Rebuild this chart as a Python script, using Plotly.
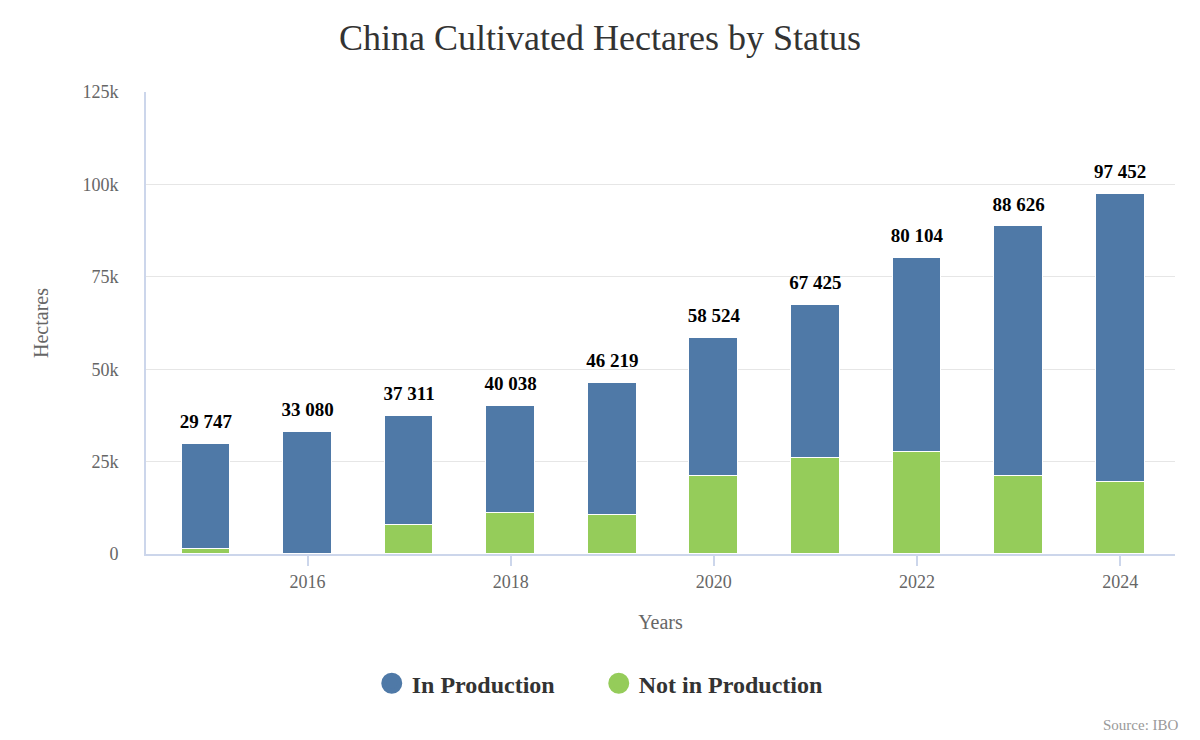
import plotly.graph_objects as go

years = [2015, 2016, 2017, 2018, 2019, 2020, 2021, 2022, 2023, 2024]
totals = [29747, 33080, 37311, 40038, 46219, 58524, 67425, 80104, 88626, 97452]
not_in_production = [1300, 0, 7900, 11200, 10600, 21000, 26000, 27600, 21000, 19400]
in_production = [t - n for t, n in zip(totals, not_in_production)]

y_tickvals = [0, 25000, 50000, 75000, 100000, 125000]
y_ticktext = ["0", "25k", "50k", "75k", "100k", "125k"]
x_tickvals = [2016, 2018, 2020, 2022, 2024]

BLUE = "#4F79A7"
GREEN = "#95CC5A"
FONT = "Liberation Serif"

fig = go.Figure()
fig.add_trace(go.Bar(x=years, y=not_in_production, name="Not in Production",
                     marker=dict(color=GREEN, line=dict(color="white", width=1)),
                     width=0.48, showlegend=False, hoverinfo="skip"))
fig.add_trace(go.Bar(x=years, y=in_production, name="In Production",
                     marker=dict(color=BLUE, line=dict(color="white", width=1)),
                     width=0.48, showlegend=False, hoverinfo="skip"))
fig.add_trace(go.Scatter(x=years, y=totals, mode="markers+text",
                         text=[f"{v:,}".replace(",", " ") for v in totals],
                         textposition="top center",
                         marker=dict(size=16, opacity=0),
                         textfont=dict(family=FONT, size=19, color="black", weight="bold"),
                         showlegend=False, hoverinfo="skip"))
# legend entries (circles)
fig.add_trace(go.Scatter(x=[None], y=[None], mode="markers", name="In Production",
                         marker=dict(symbol="circle", size=24, color=BLUE,
                                     line=dict(color=BLUE, width=5))))
fig.add_trace(go.Scatter(x=[None], y=[None], mode="markers", name="Not in Production",
                         marker=dict(symbol="circle", size=24, color=GREEN,
                                     line=dict(color=GREEN, width=5))))

fig.update_layout(
    width=1200, height=740,
    barmode="stack",
    plot_bgcolor="white", paper_bgcolor="white",
    margin=dict(l=146, r=25, t=92, b=186),
    font=dict(family=FONT, color="#666666"),
    title=dict(text="China Cultivated Hectares by Status", x=0.5, xanchor="center",
               y=0.949, yanchor="middle",
               font=dict(family=FONT, size=36, color="#333333")),
    legend=dict(orientation="h", x=0.44, xanchor="center", y=-0.232, yanchor="top",
                font=dict(family=FONT, size=24, color="#333333", weight="bold"),
                itemsizing="trace", traceorder="normal", itemwidth=30,
                entrywidth=182, entrywidthmode="pixels"),
    annotations=[dict(text="Source: IBO", xref="paper", yref="paper", x=1.006, y=-0.37,
                      xanchor="right", yanchor="middle", showarrow=False,
                      font=dict(family=FONT, size=15, color="#999999"))],
    bargap=0,
)
fig.update_xaxes(range=[2014.41, 2024.54], tickvals=x_tickvals,
                 showgrid=False, showline=True, linecolor="#ccd6eb", linewidth=2,
                 ticks="outside", ticklen=10, tickcolor="#ccd6eb", tickwidth=2,
                 tickfont=dict(family=FONT, size=18, color="#666666"),
                 title=dict(text="Years", font=dict(family=FONT, size=20, color="#666666"), standoff=24),
                 zeroline=False)
fig.update_yaxes(range=[0, 125000], tickvals=y_tickvals, ticktext=y_ticktext,
                 showgrid=True, gridcolor="#e6e6e6", gridwidth=1,
                 showline=True, linecolor="#ccd6eb", linewidth=2,
                 ticks="", tickfont=dict(family=FONT, size=18, color="#666666"),
                 ticklabelstandoff=22,
                 title=dict(text="Hectares", font=dict(family=FONT, size=20, color="#666666"), standoff=28),
                 zeroline=False)

fig.write_html("out.html")
